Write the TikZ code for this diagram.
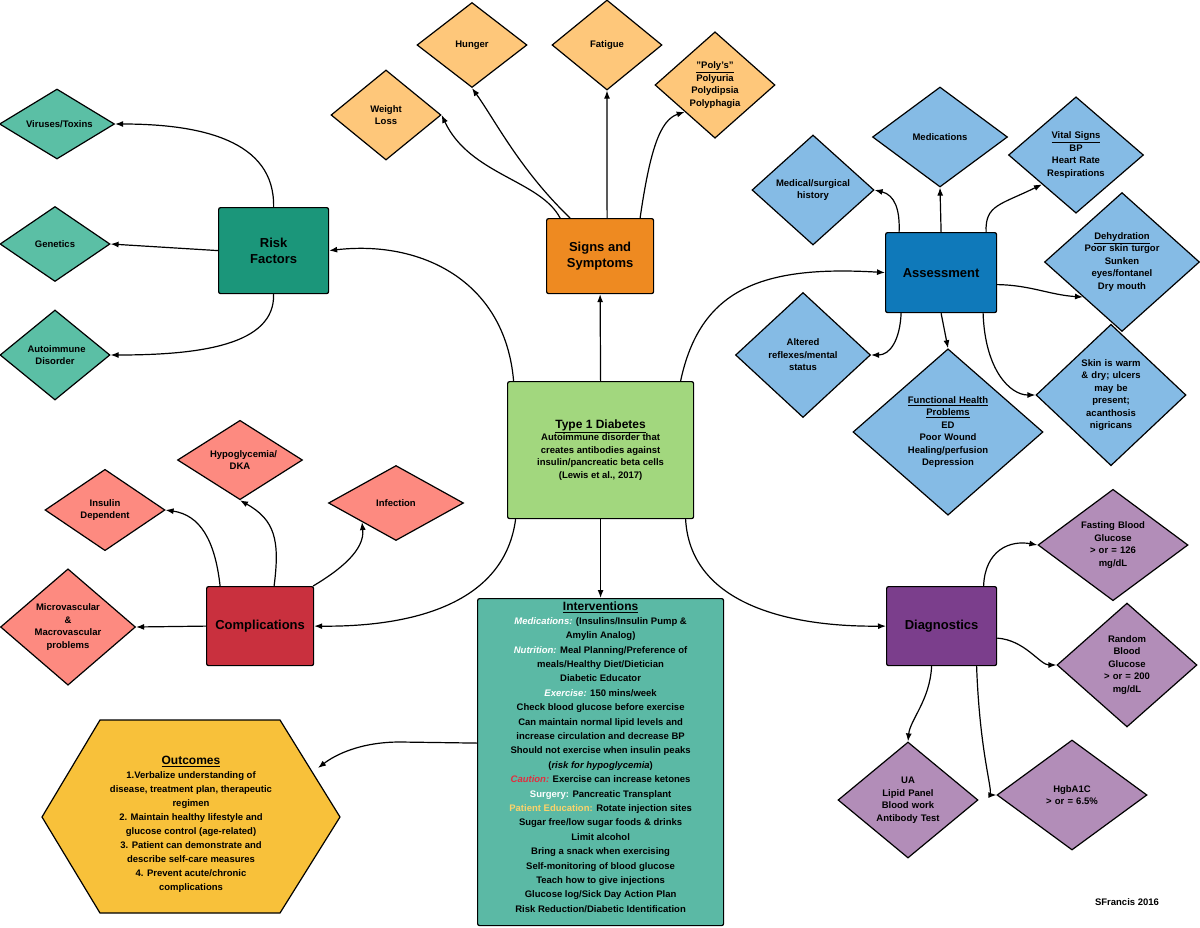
\documentclass[tikz,border=0pt]{standalone}
\usepackage{fontspec}
\setmainfont{Liberation Sans}
\usetikzlibrary{shapes.geometric,arrows.meta}
\definecolor{rf}{HTML}{1B967A}
\definecolor{rfl}{HTML}{5BBFA5}
\definecolor{ss}{HTML}{EE8A21}
\definecolor{ssl}{HTML}{FEC77A}
\definecolor{as}{HTML}{0F79BA}
\definecolor{asl}{HTML}{85BBE5}
\definecolor{t1}{HTML}{A2D77E}
\definecolor{co}{HTML}{C9303E}
\definecolor{col}{HTML}{FD8A80}
\definecolor{di}{HTML}{7B3E8C}
\definecolor{dil}{HTML}{B28DB8}
\definecolor{iv}{HTML}{5BB9A5}
\definecolor{oc}{HTML}{F8C13A}
\definecolor{cau}{HTML}{E03040}
\definecolor{pe}{HTML}{FBD36A}
\begin{document}
\begin{tikzpicture}[x=1pt,y=-1pt,
  every node/.style={font=\fontsize{9.5}{12.5}\selectfont\bfseries,align=center},
  dia/.style={diamond,draw=black,line width=1.2pt,inner sep=0pt,text width=#1},
  box/.style={draw=black,line width=1.2pt,rounded corners=2pt,font=\fontsize{13}{16}\selectfont\bfseries},
  arr/.style={-{Latex[length=8pt,width=6pt]},line width=1.2pt}]
\useasboundingbox (0,0) rectangle (1200,927);
% central
\node[box,fill=t1,minimum width=186,minimum height=137,anchor=north west,font=\fontsize{9.5}{12.5}\selectfont\bfseries] (t1) at (507,381)
 {{\fontsize{12}{15}\selectfont\underline{Type 1 Diabetes}}\\Autoimmune disorder that\\creates antibodies against\\insulin/pancreatic beta cells\\(Lewis et al., 2017)};
\node[box,fill=rf,minimum width=110,minimum height=86,anchor=north west] (rf) at (218,207) {Risk\\Factors};
\node[box,fill=ss,minimum width=107,minimum height=75,anchor=north west] (ss) at (546,218) {Signs and\\Symptoms};
\node[box,fill=as,minimum width=111,minimum height=80,anchor=north west] (as) at (885,232) {Assessment};
\node[box,fill=co,minimum width=107,minimum height=79,anchor=north west] (co) at (206,586) {Complications};
\node[box,fill=di,minimum width=110,minimum height=79,anchor=north west] (di) at (886,586) {Diagnostics};
% risk
\node[dia=62pt,fill=rfl,minimum width=115,minimum height=70] (vt) at (57,124) {Viruses/Toxins};
\node[dia=50pt,fill=rfl,minimum width=110,minimum height=75] (ge) at (55,244) {Genetics};
\node[dia=55pt,fill=rfl,minimum width=110,minimum height=90] (ad) at (55,355) {Autoimmune\\Disorder};
% signs
\node[dia=50pt,fill=ssl,minimum width=110,minimum height=90] (wl) at (386,115) {Weight\\Loss};
\node[dia=50pt,fill=ssl,minimum width=110,minimum height=85] (hu) at (472,45) {Hunger};
\node[dia=50pt,fill=ssl,minimum width=110,minimum height=90] (fa) at (607,45) {Fatigue};
\node[dia=60pt,fill=ssl,minimum width=120,minimum height=100] (po) at (715,85) {\underline{"Poly's"}\\Polyuria\\Polydipsia\\Polyphagia};
% assessment
\node[dia=70pt,fill=asl,minimum width=135,minimum height=100] (me) at (940,137) {Medications};
\node[dia=75pt,fill=asl,minimum width=122,minimum height=110] (mh) at (813,190) {Medical/surgical\\history};
\node[dia=70pt,fill=asl,minimum width=135,minimum height=110] (vs) at (1076,155) {\underline{Vital Signs}\\BP\\Heart Rate\\Respirations};
\node[dia=80pt,fill=asl,minimum width=155,minimum height=120] (dh) at (1122,262) {\underline{Dehydration}\\Poor skin turgor\\Sunken\\eyes/fontanel\\Dry mouth};
\node[dia=75pt,fill=asl,minimum width=135,minimum height=125] (ar) at (803,355) {Altered\\reflexes/mental\\status};
\node[dia=95pt,fill=asl,minimum width=190,minimum height=130] (fh) at (948,432) {\underline{Functional Health}\\\underline{Problems}\\ED\\Poor Wound\\Healing/perfusion\\Depression};
\node[dia=70pt,fill=asl,minimum width=150,minimum height=135] (sk) at (1111,395) {Skin is warm\\\& dry; ulcers\\may be\\present;\\acanthosis\\nigricans};
% complications
\node[dia=60pt,fill=col,minimum width=125,minimum height=75] (hy) at (240,460) {Hypoglycemia/\\DKA};
\node[dia=60pt,fill=col,minimum width=135,minimum height=75] (in) at (396,503) {Infection};
\node[dia=60pt,fill=col,minimum width=120,minimum height=80] (id) at (105,510) {Insulin\\Dependent};
\node[dia=70pt,fill=col,minimum width=135,minimum height=100] (mv) at (68,627) {Microvascular\\\&\\Macrovascular\\problems};
% diagnostics
\node[dia=65pt,fill=dil,minimum width=150,minimum height=100] (fb) at (1113,545) {Fasting Blood\\Glucose\\> or = 126\\mg/dL};
\node[dia=65pt,fill=dil,minimum width=140,minimum height=120] (rb) at (1127,665) {Random\\Blood\\Glucose\\> or = 200\\mg/dL};
\node[dia=70pt,fill=dil,minimum width=140,minimum height=115] (ua) at (908,800) {UA\\Lipid Panel\\Blood work\\Antibody Test};
\node[dia=70pt,fill=dil,minimum width=150,minimum height=110] (hb) at (1072,795) {HgbA1C\\> or = 6.5\%};
% interventions
\node[draw=black,line width=1.2pt,rounded corners=2pt,fill=iv,minimum width=246,minimum height=327,anchor=north west,inner sep=1pt] (iv) at (477,598)
{\begin{minipage}[t][320pt]{242pt}\centering\fontsize{9.5}{14.4}\selectfont\bfseries
{\fontsize{12}{14}\selectfont\underline{Interventions}}\\[-1pt]
{\color{white}\itshape Medications:} (Insulins/Insulin Pump \&\\Amylin Analog)\\
{\color{white}\itshape Nutrition:} Meal Planning/Preference of\\meals/Healthy Diet/Dietician\\Diabetic Educator\\
{\color{white}\itshape Exercise:} 150 mins/week\\
Check blood glucose before exercise\\Can maintain normal lipid levels and\\increase circulation and decrease BP\\Should not exercise when insulin peaks\\({\itshape risk for hypoglycemia})\\
{\color{cau}\itshape Caution:} Exercise can increase ketones\\
{\color{white}Surgery:} Pancreatic Transplant\\
{\color{pe}Patient Education:} Rotate injection sites\\
Sugar free/low sugar foods \& drinks\\Limit alcohol\\Bring a snack when exercising\\Self-monitoring of blood glucose\\Teach how to give injections\\Glucose log/Sick Day Action Plan\\Risk Reduction/Diabetic Identification
\end{minipage}};
% outcomes
\draw[line width=1.2pt,fill=oc] (42,817)--(100,720)--(280,720)--(340,817)--(280,913)--(100,913)--cycle;
\node[font=\fontsize{9.5}{14}\selectfont\bfseries] (oc) at (191,824) {{\fontsize{12}{14}\selectfont\underline{Outcomes}}\\1.Verbalize understanding of\\disease, treatment plan, therapeutic\\regimen\\2. Maintain healthy lifestyle and\\glucose control (age-related)\\3. Patient can demonstrate and\\describe self-care measures\\4. Prevent acute/chronic\\complications};
\coordinate (ocin) at (318,768);
\node (sf) at (1127,902) {SFrancis 2016};
% arrows from Type 1
\draw[arr] (t1.north) -- (ss.south);
\draw[arr] ([xshift=-87]t1.north) .. controls (505,280) and (420,240) .. (rf.east);
\draw[arr] ([xshift=80]t1.north) .. controls (700,290) and (760,265) .. (as.west);
\draw[arr] (t1.south) -- (iv.north);
\draw[arr] ([xshift=-85]t1.south) .. controls (505,600) and (420,627) .. (co.east);
\draw[arr] ([xshift=85]t1.south) .. controls (690,600) and (780,627) .. (di.west);
\draw[arr] ([yshift=19]iv.west) -- (400,742) .. controls (360,742) and (335,755) .. (ocin);
% risk
\draw[arr] (rf.north) .. controls (275,140) and (200,124) .. (vt.east);
\draw[arr] (rf.west) -- (ge.east);
\draw[arr] (rf.south) .. controls (275,345) and (200,355) .. (ad.east);
% signs
\draw[arr] ([xshift=-40]ss.north) .. controls (540,180) and (470,175) .. (wl.east);
\draw[arr] ([xshift=-30]ss.north) .. controls (520,170) and (495,120) .. (hu.south);
\draw[arr] ([xshift=7]ss.north) -- (fa.south);
\draw[arr] ([xshift=40]ss.north) .. controls (650,150) and (660,120) .. (po.south west);
% assessment
\draw[arr] ([xshift=-42]as.north) .. controls (900,210) and (895,195) .. (mh.east);
\draw[arr] ([xshift=0]as.north) -- (me.south);
\draw[arr] ([xshift=45]as.north) .. controls (985,205) and (1000,205) .. (vs.south west);
\draw[arr] ([yshift=-12]as.east) .. controls (1030,285) and (1050,295) .. (dh.south west);
\draw[arr] ([xshift=-40]as.south) .. controls (900,340) and (890,355) .. (ar.east);
\draw[arr] (as.south) -- (fh.north);
\draw[arr] ([xshift=42]as.south) .. controls (985,370) and (1010,395) .. (sk.west);
% complications
\draw[arr] ([xshift=-40]co.north) .. controls (215,540) and (200,515) .. (id.east);
\draw[arr] ([xshift=14]co.north) .. controls (280,540) and (275,520) .. (hy.south);
\draw[arr] ([xshift=53]co.north) .. controls (340,570) and (365,550) .. (in.south west);
\draw[arr] (co.west) -- (mv.east);
% diagnostics
\draw[arr] ([xshift=42]di.north) .. controls (985,550) and (1010,540) .. (fb.west);
\draw[arr] ([yshift=-12]di.east) .. controls (1025,640) and (1040,665) .. (rb.west);
\draw[arr] ([xshift=-10]di.south) .. controls (930,700) and (910,720) .. (ua.north);
\draw[arr] ([xshift=35]di.south) .. controls (980,760) and (995,795) .. (hb.west);
\end{tikzpicture}
\end{document}
